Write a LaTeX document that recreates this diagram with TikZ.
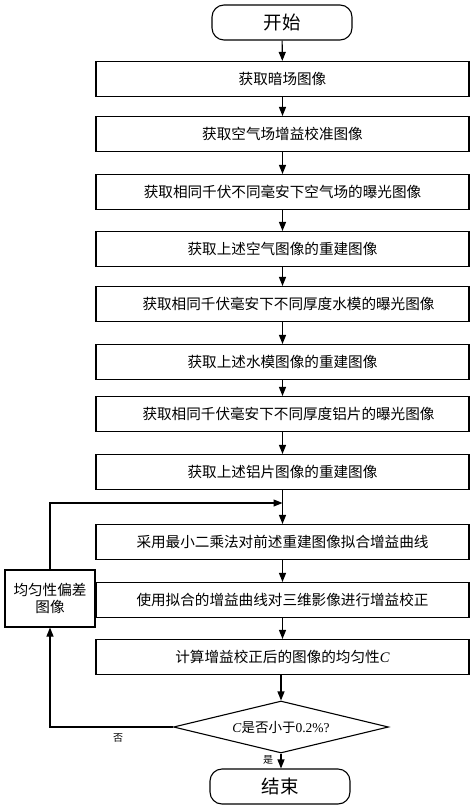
\documentclass[tikz,border=0pt]{standalone}
\usepackage{fontspec}
\setmainfont{Liberation Serif}
\newfontfamily\cjk{Noto Sans CJK SC}
\usetikzlibrary{shapes.geometric,arrows.meta}
\begin{document}
\begin{tikzpicture}[x=1pt,y=-1pt,
  every node/.style={font=\fontsize{14.6}{17}\selectfont},
  stepbox/.style={draw,line width=1.1pt,minimum width=373pt,minimum height=35pt,inner sep=0pt},
  term/.style={draw,line width=1.1pt,rounded corners=12pt,minimum width=140pt,minimum height=35pt,inner sep=0pt,font=\fontsize{18.5}{20}\selectfont},
  flow/.style={line width=1.1pt,-{Triangle[length=9pt,width=7pt]}},
  lbl/.style={font=\fontsize{10}{12}\selectfont}]
\useasboundingbox (0,0) rectangle (474,810);
\node[term] (start) at (282,22.5) {\cjk 开始};
\node[stepbox] (b1) at (282.5,79) {\cjk 获取暗场图像};
\node[stepbox] (b2) at (282.5,134) {\cjk 获取空气场增益校准图像};
\node[stepbox] (b3) at (282.5,192) {\cjk 获取相同千伏不同毫安下空气场的曝光图像};
\node[stepbox] (b4) at (282.5,249) {\cjk 获取上述空气图像的重建图像};
\node[stepbox] (b5) at (282.5,304) {\hspace*{12pt}\cjk 获取相同千伏毫安下不同厚度水模的曝光图像};
\node[stepbox] (b6) at (282.5,362) {\cjk 获取上述水模图像的重建图像};
\node[stepbox] (b7) at (282.5,414) {\hspace*{12pt}\cjk 获取相同千伏毫安下不同厚度铝片的曝光图像};
\node[stepbox] (b8) at (282.5,472) {\cjk 获取上述铝片图像的重建图像};
\node[stepbox] (b9) at (282.5,542) {\cjk 采用最小二乘法对前述重建图像拟合增益曲线};
\node[stepbox] (b10) at (282.5,600) {\cjk 使用拟合的增益曲线对三维影像进行增益校正};
\node[stepbox] (b11) at (282.5,657) {{\cjk 计算增益校正后的图像的均匀性}\textit{C}};
\node[draw,line width=1.1pt,diamond,aspect=4.13,inner sep=0pt,minimum width=215pt,minimum height=52pt,font=\fontsize{13.5}{15}\selectfont] (dec) at (281,727) {\textit{C}{\cjk 是否小于}0.2\%?};
\node[term] (end) at (280,786.5) {\cjk 结束};
\node[draw,line width=1.1pt,minimum width=90pt,minimum height=57pt,inner sep=0pt,align=center] (dev) at (50,598.5) {\cjk 均匀性偏差\\\cjk 图像};
\coordinate (join) at (282.5,503);
\draw[flow] (start) -- (b1);
\draw[flow] (b1) -- (b2);
\draw[flow] (b2) -- (b3);
\draw[flow] (b3) -- (b4);
\draw[flow] (b4) -- (b5);
\draw[flow] (b5) -- (b6);
\draw[flow] (b6) -- (b7);
\draw[flow] (b7) -- (b8);
\draw[flow] (b8) -- (b9);
\draw[flow] (b9) -- (b10);
\draw[flow] (b10) -- (b11);
\draw[flow] (b11.south -| dec.north) -- (dec.north);
\draw[flow] (dec.south) -- (end.north -| dec.south);
\draw[flow] (dec.west) -| (dev.south);
\draw[flow] (dev.north) |- (join);
\node[lbl] (no) at (118,738) {\cjk 否};
\node[lbl] (yes) at (268,760) {\cjk 是};
\end{tikzpicture}
\end{document}
